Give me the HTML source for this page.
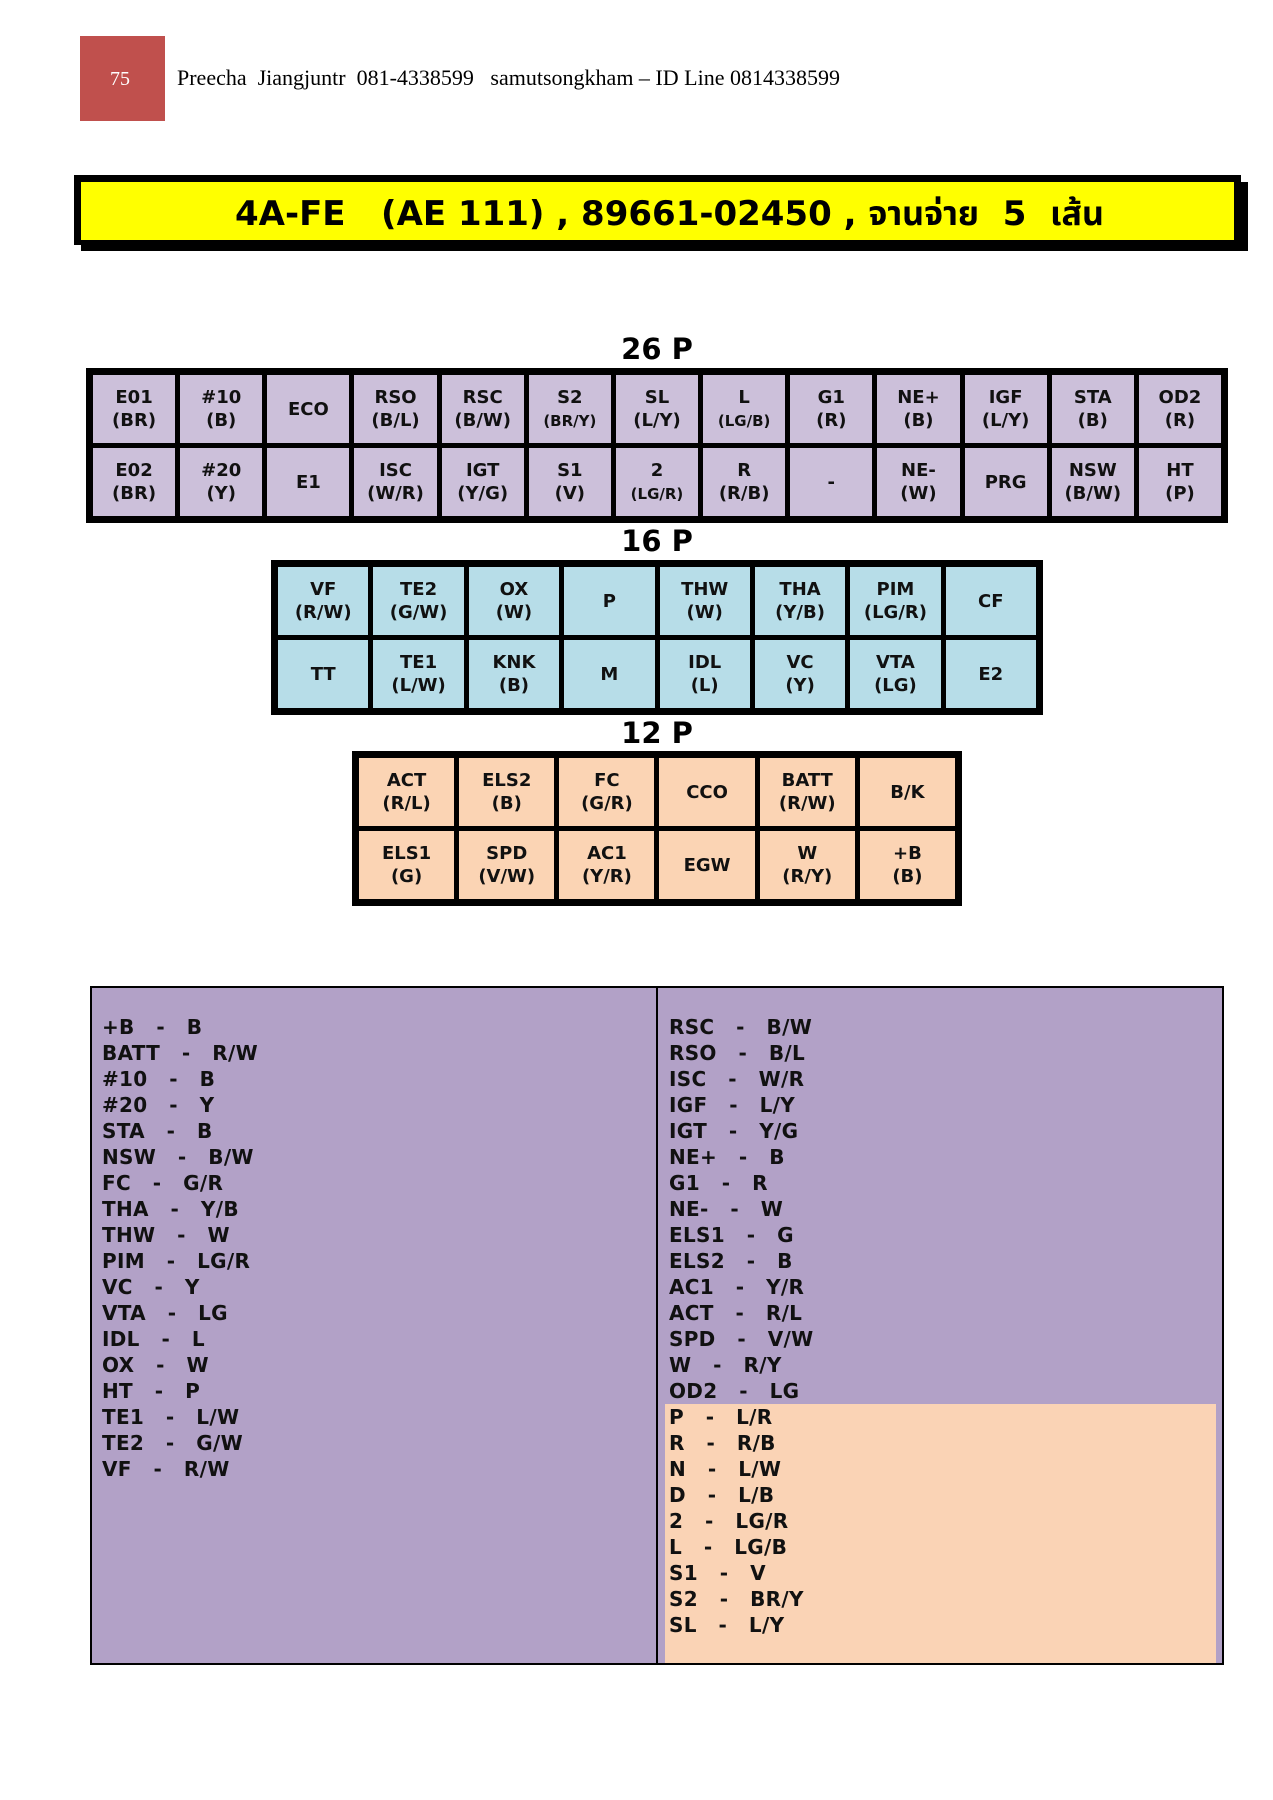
<!DOCTYPE html>
<html><head><meta charset="utf-8"><style>
body{margin:0;width:1273px;height:1800px;background:#fff;position:relative;overflow:hidden;font-family:"DejaVu Sans","Liberation Sans",sans-serif;}
.abs{position:absolute}
.grid{position:absolute;background:#000;display:grid;box-sizing:border-box;padding:7px;gap:5px}
.grid > div{display:flex;align-items:center;justify-content:center;text-align:center;font-weight:bold;font-size:18px;line-height:23px;color:#111}
.grid > div > span{display:block}
.g26 > div{background:#ccc0da}
.g16 > div{background:#b7dde8}
.g12 > div{background:#fbd4b4}
.sm{font-size:15px}
.lbl{position:absolute;font-weight:bold;font-size:29px;width:200px;text-align:center;margin-left:-100px}
.col{position:absolute;font-weight:bold;font-size:20px;line-height:26px;white-space:pre;color:#111;letter-spacing:0.3px}
</style></head><body>
<div class="abs" style="left:80px;top:36px;width:85px;height:85px;background:#c0504d"></div>
<div class="abs" style="left:110px;top:68px;color:#fff;font-family:'Liberation Serif',serif;font-size:20px">75</div>
<div class="abs" style="left:177px;top:65px;font-family:'Liberation Serif',serif;font-size:22px;white-space:pre">Preecha  Jiangjuntr  081-4338599   samutsongkham – ID Line 0814338599</div>

<div class="abs" style="left:81px;top:182px;width:1167px;height:69px;background:#000"></div>
<div class="abs" style="left:74px;top:175px;width:1167px;height:70px;background:#000"></div>
<div class="abs" style="left:81px;top:182px;width:1153px;height:58px;background:#ffff00"></div>
<div class="abs" style="left:235px;top:190px;font-weight:bold;font-size:34px;white-space:pre;font-family:'DejaVu Sans','Noto Sans Thai','Loma',sans-serif">4A-FE   (AE 111) , 89661-02450 , จานจ่าย  5  เส้น</div>

<div class="lbl" style="left:657px;top:332px">26 P</div>
<div class="grid g26" style="left:86px;top:368px;width:1142px;height:155px;grid-template-columns:repeat(13,1fr);grid-template-rows:1fr 1fr">
<div><span>E01<br>(BR)</span></div><div><span>#10<br>(B)</span></div><div><span>ECO</span></div><div><span>RSO<br>(B/L)</span></div><div><span>RSC<br>(B/W)</span></div><div><span>S2<br><span class="sm">(BR/Y)</span></span></div><div><span>SL<br>(L/Y)</span></div><div><span>L<br><span class="sm">(LG/B)</span></span></div><div><span>G1<br>(R)</span></div><div><span>NE+<br>(B)</span></div><div><span>IGF<br>(L/Y)</span></div><div><span>STA<br>(B)</span></div><div><span>OD2<br>(R)</span></div>
<div><span>E02<br>(BR)</span></div><div><span>#20<br>(Y)</span></div><div><span>E1</span></div><div><span>ISC<br>(W/R)</span></div><div><span>IGT<br>(Y/G)</span></div><div><span>S1<br>(V)</span></div><div><span>2<br><span class="sm">(LG/R)</span></span></div><div><span>R<br>(R/B)</span></div><div><span>-</span></div><div><span>NE-<br>(W)</span></div><div><span>PRG</span></div><div><span>NSW<br>(B/W)</span></div><div><span>HT<br>(P)</span></div>
</div>

<div class="lbl" style="left:657px;top:524px">16 P</div>
<div class="grid g16" style="left:271px;top:560px;width:772px;height:155px;grid-template-columns:repeat(8,1fr);grid-template-rows:1fr 1fr">
<div><span>VF<br>(R/W)</span></div><div><span>TE2<br>(G/W)</span></div><div><span>OX<br>(W)</span></div><div><span>P</span></div><div><span>THW<br>(W)</span></div><div><span>THA<br>(Y/B)</span></div><div><span>PIM<br>(LG/R)</span></div><div><span>CF</span></div>
<div><span>TT</span></div><div><span>TE1<br>(L/W)</span></div><div><span>KNK<br>(B)</span></div><div><span>M</span></div><div><span>IDL<br>(L)</span></div><div><span>VC<br>(Y)</span></div><div><span>VTA<br>(LG)</span></div><div><span>E2</span></div>
</div>

<div class="lbl" style="left:657px;top:716px">12 P</div>
<div class="grid g12" style="left:352px;top:751px;width:610px;height:155px;grid-template-columns:repeat(6,1fr);grid-template-rows:1fr 1fr">
<div><span>ACT<br>(R/L)</span></div><div><span>ELS2<br>(B)</span></div><div><span>FC<br>(G/R)</span></div><div><span>CCO</span></div><div><span>BATT<br>(R/W)</span></div><div><span>B/K</span></div>
<div><span>ELS1<br>(G)</span></div><div><span>SPD<br>(V/W)</span></div><div><span>AC1<br>(Y/R)</span></div><div><span>EGW</span></div><div><span>W<br>(R/Y)</span></div><div><span>+B<br>(B)</span></div>
</div>

<div class="abs" style="left:90px;top:986px;width:1134px;height:679px;box-sizing:border-box;border:2px solid #000;background:#b2a1c7"></div>
<div class="abs" style="left:656px;top:987px;width:2px;height:677px;background:#000"></div>
<div class="abs" style="left:665px;top:1404px;width:551px;height:259px;background:#fad3b5"></div>

<div class="col" style="left:102px;top:1014px">+B   -   B
BATT   -   R/W
#10   -   B
#20   -   Y
STA   -   B
NSW   -   B/W
FC   -   G/R
THA   -   Y/B
THW   -   W
PIM   -   LG/R
VC   -   Y
VTA   -   LG
IDL   -   L
OX   -   W
HT   -   P
TE1   -   L/W
TE2   -   G/W
VF   -   R/W</div>
<div class="col" style="left:669px;top:1014px">RSC   -   B/W
RSO   -   B/L
ISC   -   W/R
IGF   -   L/Y
IGT   -   Y/G
NE+   -   B
G1   -   R
NE-   -   W
ELS1   -   G
ELS2   -   B
AC1   -   Y/R
ACT   -   R/L
SPD   -   V/W
W   -   R/Y
OD2   -   LG
P   -   L/R
R   -   R/B
N   -   L/W
D   -   L/B
2   -   LG/R
L   -   LG/B
S1   -   V
S2   -   BR/Y
SL   -   L/Y</div>
</body></html>
